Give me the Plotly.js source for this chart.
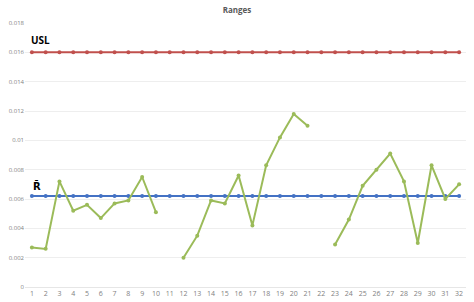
<!DOCTYPE html>
<html>
<head>
<meta charset="utf-8">
<script src="https://cdn.plot.ly/plotly-3.0.1.min.js"></script>
<style>html,body{margin:0;padding:0;background:#fff;}#chart{width:474px;height:302px;}</style>
</head>
<body>
<div id="chart"></div>
<script>
var samples = ["1","2","3","4","5","6","7","8","9","10","11","12","13","14","15","16","17","18","19","20","21","22","23","24","25","26","27","28","29","30","31","32"];
var ranges = [0.0027,0.0026,0.0072,0.0052,0.0056,0.0047,0.0057,0.0059,0.0075,0.0051,null,0.0020,0.0035,0.0059,0.0057,0.0076,0.0042,0.0083,0.0102,0.0118,0.0110,null,0.0029,0.0046,0.0069,0.0080,0.0091,0.0072,0.0030,0.0083,0.0060,0.0070];
var usl = samples.map(function(){return 0.016;});
var rbar = samples.map(function(){return 0.0062;});
var yTicks = [0,0.002,0.004,0.006,0.008,0.01,0.012,0.014,0.016,0.018];

var traces = [
  {x: samples, y: usl, type:'scatter', mode:'lines+markers', line:{color:'#C0504D', width:2}, marker:{color:'#C0504D', size:4}, hoverinfo:'none'},
  {x: samples, y: rbar, type:'scatter', mode:'lines+markers', line:{color:'#4472C4', width:2}, marker:{color:'#4472C4', size:4}, hoverinfo:'none'},
  {x: samples, y: ranges, type:'scatter', mode:'lines+markers', connectgaps:false, line:{color:'#9BBB59', width:2}, marker:{color:'#9BBB59', size:4}, hoverinfo:'none'}
];

var layout = {
  width:474, height:302,
  margin:{l:25, r:8, t:23, b:15, autoexpand:false},
  paper_bgcolor:'#fff', plot_bgcolor:'#fff',
  showlegend:false,
  title:{text:'<b>Ranges</b>', font:{family:'Open Sans, sans-serif', size:8, color:'#595959'}, x:0.5, xanchor:'center', y:0.975, yanchor:'top', automargin:false},
  xaxis:{type:'category', range:[-0.5, samples.length - 0.5], automargin:false, tickvals:samples, ticktext:samples, showgrid:false, zeroline:false, showline:true, linecolor:'#E6E6E6', linewidth:1, ticks:'', tickfont:{family:'Open Sans, sans-serif', size:7, color:'#7F7F7F'}, ticklen:0},
  yaxis:{range:[0,0.018], automargin:false, tickvals:yTicks, showgrid:true, gridcolor:'#EEEEEE', gridwidth:1, zeroline:false, showline:false, ticks:'', tickfont:{family:'Open Sans, sans-serif', size:6, color:'#7F7F7F'}},
  annotations:[
    {xref:'x', yref:'y', x:0, y:usl[0], text:'<b>USL</b>', showarrow:false, xanchor:'left', yanchor:'bottom', yshift:3, xshift:-3, font:{family:'Open Sans, sans-serif', size:10, color:'#000'}},
    {xref:'x', yref:'y', x:0, y:rbar[0], text:'<b>R̄</b>', showarrow:false, xanchor:'left', yanchor:'bottom', yshift:2, xshift:-1, font:{family:'DejaVu Sans, sans-serif', size:10, color:'#000'}}
  ]
};
Plotly.newPlot('chart', traces, layout, {displayModeBar:false, staticPlot:true});
</script>
</body>
</html>
